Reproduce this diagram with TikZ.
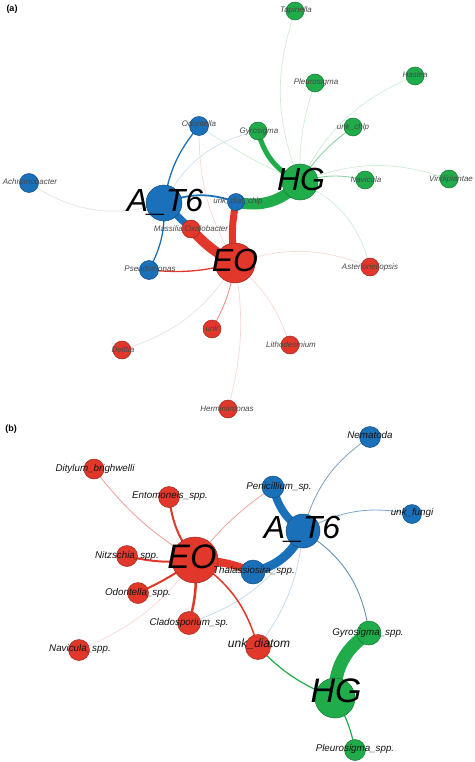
\documentclass[tikz,border=0pt]{standalone}
\usepackage{fontspec}
\setmainfont{Liberation Sans}
\pgfdeclarelayer{edges}
\pgfsetlayers{edges,main}
\definecolor{cblue}{RGB}{27,112,186}
\definecolor{cgreen}{RGB}{32,172,74}
\definecolor{cred}{RGB}{226,55,43}
\tikzset{
  nd/.style={circle, inner sep=0pt, line width=0.5pt},
  bn/.style={nd, fill=cblue, draw=cblue!70!black},
  gn/.style={nd, fill=cgreen, draw=cgreen!70!black},
  rn/.style={nd, fill=cred, draw=cred!70!black},
  sz/.style={minimum size=#1},
  la/.style={font=\fontsize{8}{9}\selectfont\itshape, text=black!72, inner sep=0pt},
  lb/.style={font=\fontsize{9.8}{11}\selectfont\itshape, text=black!92, inner sep=0pt},
  big/.style={font=\fontsize{#1}{#1}\selectfont\itshape, text=black, inner sep=0pt, anchor=base},
  panel/.style={font=\fontsize{9}{10}\selectfont\bfseries, inner sep=0pt},
  fg/.style={draw=cgreen!22, line width=0.7pt},
  fr/.style={draw=cred!20, line width=0.7pt},
  fb/.style={draw=cblue!22, line width=0.7pt},
  fgr/.style={draw=black!10, line width=0.8pt},
}
\begin{document}
\begin{tikzpicture}[x=1pt,y=1pt]
\useasboundingbox (0,0) rectangle (474,-762);
% ================= panel (a) =================
\node[panel] (pa) at (12,-9) {(a)};
\node[bn, sz=36pt] (at6a) at (164,-203) {};
\node[rn, sz=40pt] (eoa) at (235,-263) {};
\node[gn, sz=36pt] (hga) at (300,-182) {};
\node[bn, sz=19pt] (odo) at (199,-126) {};
\node[bn, sz=19pt] (ach) at (29,-183) {};
\node[bn, sz=17pt] (udc) at (236,-202) {};
\node[rn, sz=18pt] (mas) at (191,-229) {};
\node[bn, sz=19pt] (pse) at (149,-270) {};
\node[gn, sz=18pt] (gyr) at (258,-131) {};
\node[gn, sz=18pt] (tap) at (295,-11) {};
\node[gn, sz=18pt] (ple) at (315,-83) {};
\node[gn, sz=18pt] (has) at (415,-76) {};
\node[gn, sz=18pt] (uch) at (353,-127) {};
\node[gn, sz=18pt] (nav) at (365,-180) {};
\node[gn, sz=18pt] (vir) at (449,-179) {};
\node[rn, sz=18pt] (ast) at (370,-267) {};
\node[rn, sz=18pt] (lit) at (290,-345) {};
\node[rn, sz=18pt] (unk) at (212,-329) {};
\node[rn, sz=18pt] (del) at (122,-350) {};
\node[rn, sz=18pt] (her) at (228,-409) {};
\begin{pgfonlayer}{edges}
\draw[fg] (hga.center) to[bend left=20] (tap.center);
\draw[fg] (hga.center) to[bend left=10] (ple.center);
\draw[fg] (hga.center) to[bend left=20] (has.center);
\draw[draw=cgreen!50, line width=0.9pt] (hga.center) to[bend left=10] (uch.center);
\draw[draw=cgreen!50, line width=0.9pt] (hga.center) to[bend left=15] (nav.center);
\draw[fg] (hga.center) to[bend left=20] (vir.center);
\draw[fg] (hga.center) to[bend left=25] (ast.center);
\draw[fr] (eoa.center) to[bend left=20] (ast.center);
\draw[fr] (eoa.center) to[bend left=15] (lit.center);
\draw[draw=cred!60, line width=0.8pt] (eoa.center) to[bend left=10] (unk.center);
\draw[fgr] (eoa.center) to[bend left=20] (del.center);
\draw[fr] (eoa.center) to[bend left=12] (her.center);
\draw[fr] (odo.center) to[bend right=15] (eoa.center);
\draw[fg] (odo.center) to[bend right=5] (hga.center);
\draw[fgr] (at6a.center) to[bend left=25] (ach.center);
\draw[fb] (at6a.center) to[bend left=25] (gyr.center);
\draw[draw=cblue, line width=1.3pt] (at6a.center) to[bend left=15] (odo.center);
\draw[draw=cblue, line width=1.3pt] (at6a.center) to[bend left=15] (pse.center);
\draw[draw=cred, line width=1.3pt] (pse.center) to[bend right=10] (eoa.center);
\draw[draw=cblue, line width=1.8pt] (at6a.center) to[bend left=20] (udc.center);
\draw[draw=cblue, line width=7pt] (at6a.center) -- (mas.center);
\draw[draw=cred, line width=10pt] (mas.center) to[bend right=10] (eoa.center);
\draw[draw=cred, line width=7pt] (eoa.center) to[bend left=10] (udc.center);
\draw[draw=cgreen, line width=11pt] (udc.center) to[bend right=30] (hga.center);
\draw[draw=cgreen, line width=5pt] (hga.center) to[bend left=25] (gyr.center);
\end{pgfonlayer}
\node[la] (odoL) at (199,-124) {Odontella};
\node[la] (achL) at (30,-182) {Achromobacter};
\node[la] (udcL) at (238,-201) {unk\_diat\_chlp};
\node[la] (masL) at (191,-229) {Massilia Oxalobacter};
\node[la] (pseL) at (150,-269) {Pseudomonas};
\node[la] (gyrL) at (259,-131) {Gyrosigma};
\node[la] (tapL) at (296,-10) {Tapinella};
\node[la] (pleL) at (316,-82) {Pleurosigma};
\node[la] (hasL) at (415,-75) {Haslea};
\node[la] (uchL) at (353,-127) {unk\_chlp};
\node[la] (navL) at (366,-180) {Navicula};
\node[la] (virL) at (451,-179) {Viridiplantae};
\node[la] (astL) at (370,-267) {Asterionellopsis};
\node[la] (litL) at (291,-345) {Lithodesmium};
\node[la] (unkL) at (212,-329) {unk};
\node[la] (delL) at (123,-350) {Delftia};
\node[la] (herL) at (227,-409) {Herminiimonas};
\node[big=32] (at6aL) at (165,-211) {A\_T6};
\node[big=32] (eoaL) at (235,-271) {EO};
\node[big=32] (hgaL) at (301,-190) {HG};
% ================= panel (b) =================
\node[panel] (pb) at (11,-429) {(b)};
\node[rn, sz=46pt] (eob) at (195,-560) {};
\node[bn, sz=34pt] (at6b) at (303,-531) {};
\node[gn, sz=40pt] (hgb) at (335,-698) {};
\node[bn, sz=24pt] (tha) at (253,-572) {};
\node[bn, sz=22pt] (pen) at (273,-487) {};
\node[bn, sz=21pt] (nem) at (370,-437) {};
\node[bn, sz=19pt] (ufu) at (412,-514) {};
\node[gn, sz=24pt] (gyb) at (369,-633) {};
\node[gn, sz=21pt] (plb) at (355,-750) {};
\node[rn, sz=20pt] (dit) at (94,-469) {};
\node[rn, sz=21pt] (ent) at (169,-497) {};
\node[rn, sz=21pt] (nit) at (127,-556) {};
\node[rn, sz=21pt] (odb) at (138,-593) {};
\node[rn, sz=23pt] (cla) at (189,-623) {};
\node[rn, sz=21pt] (nvb) at (79,-650) {};
\node[rn, sz=25pt] (udt) at (258,-647) {};
\begin{pgfonlayer}{edges}
\draw[fr] (eob.center) to[bend left=15] (nvb.center);
\draw[draw=cred!50, line width=0.8pt] (eob.center) to[bend left=10] (dit.center);
\draw[draw=cred!45, line width=0.8pt] (eob.center) to[bend left=8] (pen.center);
\draw[draw=cblue!25, line width=0.8pt] (cla.center) to[bend right=20] (at6b.center);
\draw[draw=cblue!25, line width=0.8pt] (udt.center) to[bend right=15] (at6b.center);
\draw[draw=cblue!55!gray!70, line width=0.8pt] (at6b.center) to[bend left=20] (nem.center);
\draw[draw=cblue!60, line width=0.8pt] (at6b.center) to[bend left=20] (ufu.center);
\draw[draw=cblue!65!gray!80, line width=0.9pt] (at6b.center) to[bend left=25] (gyb.center);
\draw[draw=cred, line width=2pt] (eob.center) to[bend left=15] (ent.center);
\draw[draw=cred, line width=2pt] (eob.center) to[bend left=10] (nit.center);
\draw[draw=cred, line width=2pt] (eob.center) to[bend left=5] (odb.center);
\draw[draw=cred, line width=2.5pt] (eob.center) to[bend left=10] (cla.center);
\draw[draw=cred, line width=1.5pt] (eob.center) to[bend left=20] (udt.center);
\draw[draw=cgreen, line width=1.2pt] (hgb.center) to[bend left=12] (udt.center);
\draw[draw=cgreen, line width=1.2pt] (hgb.center) to[bend left=10] (plb.center);
\draw[draw=cred, line width=8pt] (eob.center) to[bend left=10] (tha.center);
\draw[draw=cblue, line width=9pt] (tha.center) to[bend right=25] (at6b.center);
\draw[draw=cblue, line width=8pt] (at6b.center) to[bend left=20] (pen.center);
\draw[draw=cgreen, line width=13pt] (hgb.center) to[bend left=30] (gyb.center);
\end{pgfonlayer}
\node[lb] (ditL) at (95,-469) {Ditylum\_brighwelli};
\node[lb] (entL) at (170,-496) {Entomoneis\_spp.};
\node[lb] (nitL) at (127,-556) {Nitzschia\_spp.};
\node[lb] (odbL) at (138,-593) {Odontella\_spp.};
\node[lb] (claL) at (189,-623) {Cladosporium\_sp.};
\node[lb] (nvbL) at (80,-649) {Navicula\_spp.};
\node[lb, font=\fontsize{12}{13}\selectfont\itshape] (udtL) at (259,-644) {unk\_diatom};
\node[lb] (thaL) at (254,-571) {Thalassiosira\_spp.};
\node[lb] (penL) at (279,-487) {Penicillium\_sp.};
\node[lb] (nemL) at (370,-435) {Nematoda};
\node[lb] (ufuL) at (412,-513) {unk\_fungi};
\node[lb] (gybL) at (368,-633) {Gyrosigma\_spp.};
\node[lb] (plbL) at (355,-749) {Pleurosigma\_spp.};
\node[big=32] (at6bL) at (302,-538) {A\_T6};
\node[big=34] (eobL) at (192,-568) {EO};
\node[big=34] (hgbL) at (336,-702) {HG};
\end{tikzpicture}
\end{document}
